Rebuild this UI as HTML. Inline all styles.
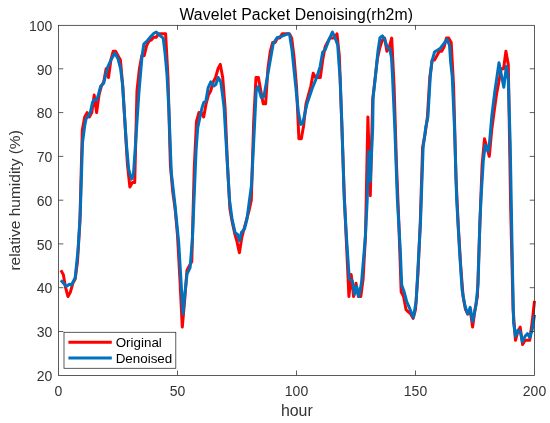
<!DOCTYPE html>
<html><head><meta charset="utf-8"><title>Wavelet Packet Denoising(rh2m)</title>
<style>
html,body{margin:0;padding:0;background:#fff;}
body{width:550px;height:423px;overflow:hidden;position:relative;}
svg text{font-family:"Liberation Sans",Arial,Helvetica,sans-serif;}
</style></head><body>
<svg width="550" height="423" viewBox="0 0 550 423" style="display:block;position:absolute;left:0;top:0">
<rect x="0" y="0" width="550" height="423" fill="#ffffff"/>
<polyline points="60.9,270.2 63.3,274.6 65.6,287.7 68.0,296.5 70.4,292.1 72.8,283.3 75.2,279.0 77.5,261.5 79.9,222.0 82.3,130.1 84.7,117.0 87.1,112.6 89.4,117.0 91.8,112.6 94.2,95.1 96.6,112.6 99.0,95.1 101.3,86.3 103.7,81.9 106.1,68.8 108.5,77.5 110.9,60.0 113.2,51.3 115.6,51.3 118.0,55.7 120.4,60.0 122.8,86.3 125.1,125.7 127.5,165.1 129.9,187.0 132.3,182.6 134.7,182.6 137.0,90.7 139.4,68.8 141.8,55.7 144.2,55.7 146.6,45.6 148.9,41.2 151.3,39.9 153.7,37.3 156.1,37.3 158.5,33.8 160.8,33.8 163.2,33.8 165.6,33.8 168.0,77.5 170.4,165.1 172.7,191.4 175.1,208.9 177.5,235.2 179.9,279.0 182.3,327.1 184.6,300.9 187.0,270.2 189.4,265.8 191.8,261.5 194.2,169.5 196.5,121.3 198.9,112.6 201.3,112.6 203.7,117.0 206.1,103.8 208.4,95.1 210.8,90.7 213.2,81.9 215.6,77.5 218.0,68.8 220.3,64.4 222.7,77.5 225.1,108.2 227.5,165.1 229.9,208.9 232.2,222.0 234.6,233.0 237.0,241.7 239.4,252.7 241.8,237.4 244.1,228.6 246.5,219.9 248.9,211.1 251.3,200.2 253.7,121.3 256.0,77.5 258.4,77.5 260.8,90.7 263.2,103.8 265.6,103.8 267.9,68.8 270.3,51.3 272.7,42.5 275.1,42.5 277.5,38.1 279.8,38.1 282.2,33.8 284.6,33.8 287.0,33.8 289.4,33.8 291.7,38.1 294.1,57.8 296.5,86.3 298.9,138.8 301.3,138.8 303.6,125.7 306.0,103.8 308.4,95.1 310.8,86.3 313.2,73.2 315.5,77.5 317.9,77.5 320.3,77.5 322.7,60.0 325.1,46.9 327.4,42.5 329.8,38.1 332.2,38.1 334.6,38.1 337.0,33.8 339.3,55.7 341.7,121.3 344.1,191.4 346.5,243.9 348.9,296.5 351.2,274.6 353.6,296.5 356.0,283.3 358.4,296.5 360.8,296.5 363.1,279.0 365.5,235.2 367.9,117.0 370.3,195.8 372.7,99.4 375.0,79.7 377.4,58.7 379.8,47.8 382.2,40.3 384.6,38.1 386.9,51.3 389.3,46.9 391.7,38.1 394.1,86.3 396.5,165.1 398.8,222.0 401.2,292.1 403.6,296.5 406.0,309.6 408.4,311.8 410.7,314.0 413.1,318.4 415.5,309.6 417.9,274.6 420.3,222.0 422.6,147.6 425.0,134.5 427.4,117.0 429.8,77.5 432.2,60.0 434.5,60.0 436.9,55.7 439.3,51.3 441.7,51.3 444.1,46.9 446.4,38.1 448.8,38.1 451.2,42.5 453.6,86.3 456.0,178.3 458.3,226.4 460.7,265.8 463.1,296.5 465.5,309.6 467.9,314.0 470.2,309.6 472.6,327.1 475.0,309.6 477.4,296.5 479.8,226.4 482.1,165.1 484.5,138.8 486.9,147.6 489.3,156.4 491.7,130.1 494.0,112.6 496.4,95.1 498.8,81.9 501.2,68.8 503.6,68.8 505.9,51.3 508.3,64.4 510.7,208.9 513.1,309.6 515.5,340.3 517.8,331.5 520.2,327.1 522.6,344.6 525.0,340.3 527.4,340.3 529.7,340.3 532.1,322.8 534.5,300.9" fill="none" stroke="#ff0000" stroke-width="3.0" stroke-linejoin="round" stroke-linecap="butt"/>
<polyline points="60.9,280.3 66.4,286.4 69.4,284.2 71.4,285.1 75.2,277.7 78.0,250.1 80.2,215.0 82.5,142.8 84.7,125.7 86.1,118.7 88.7,115.6 90.6,111.3 92.5,102.5 94.3,99.4 96.8,99.9 98.7,93.7 100.6,86.3 103.7,83.2 107.5,67.5 110.9,60.0 114.9,53.0 118.0,58.7 120.6,68.8 122.5,84.1 126.3,142.8 128.7,169.5 131.6,179.1 133.5,173.9 135.6,142.8 138.9,92.9 142.0,56.5 143.9,43.8 147.0,41.2 149.4,38.1 153.9,33.3 156.3,32.0 158.9,34.6 163.2,38.1 165.1,53.5 167.0,74.9 168.9,109.9 171.3,172.6 175.0,205.0 178.7,242.6 183.0,314.0 184.6,296.5 187.0,274.2 190.1,267.6 192.5,237.8 193.9,202.8 196.1,150.0 197.7,127.9 200.1,116.5 202.0,107.8 203.9,102.1 205.8,101.6 208.2,87.6 210.8,81.9 213.9,85.9 215.8,84.6 218.2,77.5 220.8,81.9 222.7,96.4 224.1,107.8 227.0,157.7 229.5,200.0 232.0,218.8 235.1,232.6 237.6,234.5 239.5,240.9 241.4,232.6 244.5,229.0 247.0,218.8 249.5,200.0 251.5,185.3 254.4,127.9 256.3,88.9 258.2,86.7 261.3,97.7 263.9,96.4 267.0,78.9 270.1,61.3 273.2,43.8 277.0,37.7 281.5,36.4 287.7,33.8 289.6,34.4 292.0,50.0 294.6,75.4 298.4,112.6 300.8,124.4 302.7,123.5 307.0,103.8 312.2,88.5 317.0,76.7 320.1,66.6 322.7,52.1 325.1,50.0 328.9,39.9 332.4,32.0 335.1,38.1 337.7,45.1 338.9,62.7 340.1,77.5 342.0,127.9 344.3,200.2 346.5,237.8 349.3,279.0 352.2,280.3 354.6,294.3 356.5,286.4 358.9,296.5 361.5,282.9 365.3,237.8 367.2,200.2 368.6,151.5 370.3,181.3 372.7,127.9 373.1,97.7 375.3,77.5 378.1,50.0 380.0,37.7 382.4,35.9 384.5,39.0 387.4,47.8 389.6,48.2 391.5,57.8 392.5,76.2 394.8,127.9 397.4,200.2 400.3,250.1 401.7,285.1 404.1,291.7 406.7,301.7 409.8,308.7 413.4,317.5 416.2,300.9 418.1,265.8 420.5,222.0 423.1,147.6 425.7,127.9 427.9,117.0 430.3,76.2 431.9,61.3 434.5,52.1 440.0,48.6 443.8,43.8 446.9,39.4 449.5,45.1 450.7,62.7 452.2,76.2 454.5,127.9 456.7,200.2 459.5,250.1 462.1,289.9 464.8,305.2 467.6,314.0 470.2,307.4 472.6,321.4 476.0,305.2 478.1,283.3 479.8,225.1 480.9,200.2 483.3,160.7 485.2,145.0 488.1,151.5 489.5,142.8 491.9,115.2 494.8,91.6 499.0,62.7 503.8,87.2 506.4,66.2 508.3,79.7 510.2,142.8 512.4,265.8 513.6,322.8 515.5,336.3 517.8,330.2 520.2,331.5 522.4,341.6 525.0,336.3 527.4,333.7 530.0,337.6 532.4,328.9 534.5,314.9" fill="none" stroke="#0072bd" stroke-width="3.0" stroke-linejoin="round" stroke-linecap="butt"/>
<rect x="58.5" y="25.35" width="476.0" height="350.04999999999995" fill="none" stroke="#333333" stroke-width="0.8"/>
<text x="58.5" y="395.8" text-anchor="middle" font-size="14" fill="#333333">0</text>
<line x1="177.5" y1="375.3" x2="177.5" y2="370.5" stroke="#333333" stroke-width="0.8"/>
<line x1="177.5" y1="25.0" x2="177.5" y2="29.8" stroke="#333333" stroke-width="0.8"/>
<text x="177.5" y="395.8" text-anchor="middle" font-size="14" fill="#333333">50</text>
<line x1="296.5" y1="375.3" x2="296.5" y2="370.5" stroke="#333333" stroke-width="0.8"/>
<line x1="296.5" y1="25.0" x2="296.5" y2="29.8" stroke="#333333" stroke-width="0.8"/>
<text x="296.5" y="395.8" text-anchor="middle" font-size="14" fill="#333333">100</text>
<line x1="415.5" y1="375.3" x2="415.5" y2="370.5" stroke="#333333" stroke-width="0.8"/>
<line x1="415.5" y1="25.0" x2="415.5" y2="29.8" stroke="#333333" stroke-width="0.8"/>
<text x="415.5" y="395.8" text-anchor="middle" font-size="14" fill="#333333">150</text>
<text x="534.5" y="395.8" text-anchor="middle" font-size="14" fill="#333333">200</text>
<text x="52.3" y="381.0" text-anchor="end" font-size="14" fill="#333333">20</text>
<line x1="58.5" y1="331.5" x2="63.3" y2="331.5" stroke="#333333" stroke-width="0.8"/>
<line x1="534.5" y1="331.5" x2="529.7" y2="331.5" stroke="#333333" stroke-width="0.8"/>
<text x="52.3" y="337.2" text-anchor="end" font-size="14" fill="#333333">30</text>
<line x1="58.5" y1="287.7" x2="63.3" y2="287.7" stroke="#333333" stroke-width="0.8"/>
<line x1="534.5" y1="287.7" x2="529.7" y2="287.7" stroke="#333333" stroke-width="0.8"/>
<text x="52.3" y="293.4" text-anchor="end" font-size="14" fill="#333333">40</text>
<line x1="58.5" y1="243.9" x2="63.3" y2="243.9" stroke="#333333" stroke-width="0.8"/>
<line x1="534.5" y1="243.9" x2="529.7" y2="243.9" stroke="#333333" stroke-width="0.8"/>
<text x="52.3" y="249.6" text-anchor="end" font-size="14" fill="#333333">50</text>
<line x1="58.5" y1="200.2" x2="63.3" y2="200.2" stroke="#333333" stroke-width="0.8"/>
<line x1="534.5" y1="200.2" x2="529.7" y2="200.2" stroke="#333333" stroke-width="0.8"/>
<text x="52.3" y="205.8" text-anchor="end" font-size="14" fill="#333333">60</text>
<line x1="58.5" y1="156.4" x2="63.3" y2="156.4" stroke="#333333" stroke-width="0.8"/>
<line x1="534.5" y1="156.4" x2="529.7" y2="156.4" stroke="#333333" stroke-width="0.8"/>
<text x="52.3" y="162.1" text-anchor="end" font-size="14" fill="#333333">70</text>
<line x1="58.5" y1="112.6" x2="63.3" y2="112.6" stroke="#333333" stroke-width="0.8"/>
<line x1="534.5" y1="112.6" x2="529.7" y2="112.6" stroke="#333333" stroke-width="0.8"/>
<text x="52.3" y="118.3" text-anchor="end" font-size="14" fill="#333333">80</text>
<line x1="58.5" y1="68.8" x2="63.3" y2="68.8" stroke="#333333" stroke-width="0.8"/>
<line x1="534.5" y1="68.8" x2="529.7" y2="68.8" stroke="#333333" stroke-width="0.8"/>
<text x="52.3" y="74.5" text-anchor="end" font-size="14" fill="#333333">90</text>
<text x="52.3" y="30.7" text-anchor="end" font-size="14" fill="#333333">100</text>
<text x="296.2" y="19.6" text-anchor="middle" textLength="233.6" lengthAdjust="spacing" font-size="15.8" fill="#000">Wavelet Packet Denoising(rh2m)</text>
<text x="296.8" y="415.9" text-anchor="middle" font-size="15.9" fill="#333333">hour</text>
<text transform="translate(20.3,200.4) rotate(-90)" text-anchor="middle" font-size="15.5" fill="#333333">relative humidity (%)</text>
<rect x="64" y="332.3" width="111.8" height="36" fill="#fff" stroke="#333333" stroke-width="0.8"/>
<line x1="68.4" y1="342.2" x2="111.8" y2="342.2" stroke="#ff0000" stroke-width="3.0"/>
<line x1="68.4" y1="358.1" x2="111.8" y2="358.1" stroke="#0072bd" stroke-width="3.0"/>
<text x="115.7" y="347.1" font-size="13.4" fill="#000">Original</text>
<text x="115.7" y="363.4" font-size="13.4" fill="#000">Denoised</text>
</svg>
</body></html>
